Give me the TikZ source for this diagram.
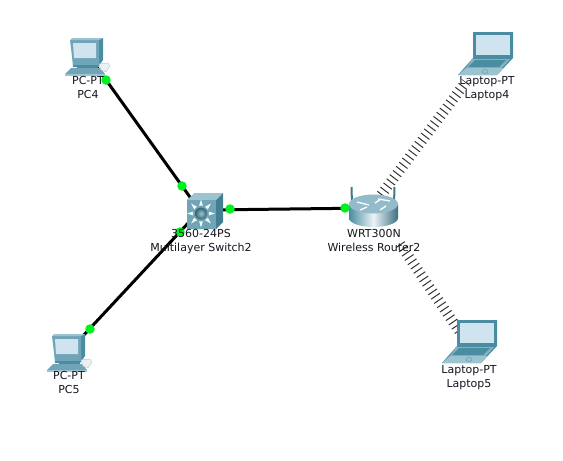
\documentclass[tikz,border=0pt]{standalone}
\usepackage{fontspec}
\setmainfont{DejaVu Sans}
\usetikzlibrary{calc}
\definecolor{tealA}{HTML}{6FA5B7}
\definecolor{tealB}{HTML}{4A8CA1}
\definecolor{tealC}{HTML}{9CC4D0}
\definecolor{screenC}{HTML}{CFE4EE}
\definecolor{linkgreen}{HTML}{00F020}
\definecolor{labelc}{HTML}{14141F}
\tikzset{
  link/.style={line width=3pt,black},
  wifi/.style={line width=10.5pt,black!80,dash pattern=on 1pt off 4.2pt},
  dot/.style={circle,fill=linkgreen,draw=none,inner sep=0pt,minimum size=9.5pt},
  lbl/.style={font=\fontsize{11pt}{14pt}\selectfont,text=labelc,align=center,inner sep=0pt},
  anchorpt/.style={inner sep=0pt,minimum size=0pt},
  pics/pcicon/.style={code={
    \fill[tealB] (-14,-19) -- (17,-19) -- (17,3) -- (12,10) -- (-13,10) -- cycle;
    \fill[tealA] (-16,-17) -- (13,-17) -- (13,8) -- (-13,8) -- cycle;
    \fill[tealC] (-16,-17) -- (-14,-19) -- (17,-19) -- (13,-17) -- cycle;
    \fill[screenC] (-13,-14) -- (10,-14) -- (10,1) -- (-12,1) -- cycle;
    \fill[tealB] (-9,8) -- (11,8) -- (12,11) -- (-9,11) -- cycle;
    \fill[tealA] (-15,11) -- (14,11) -- (19,17) -- (-21,17) -- cycle;
    \fill[tealC] (-21,17) -- (19,17) -- (19,19) -- (-21,19) -- cycle;
    \fill[white!85!tealA,draw=gray!50,line width=.4pt] (13,7) -- (22,6) -- (24,9) -- (20,15) -- (15,13) -- cycle;
  }},
  pics/lapicon/.style={code={
    \fill[tealB] (-13,-23) -- (27,-23) -- (27,3) -- (11,20) -- (-28,20) -- (-13,3) -- cycle;
    \fill[screenC] (-10,-20) -- (24,-20) -- (24,0) -- (-10,0) -- cycle;
    \fill[tealA!85!white] (-14,4) -- (24,4) -- (16,13) -- (-20,13) -- cycle;
    \fill[tealB] (-11,5) -- (20,5) -- (13,12) -- (-18,12) -- cycle;
    \fill[tealC] (-28,20) -- (-20,13) -- (17,13) -- (11,20) -- cycle;
    \draw[tealA,line width=.7pt] (-1,16.5) ellipse (3 and 2);
  }},
}
\begin{document}
\begin{tikzpicture}[x=1pt,y=-1pt]
\useasboundingbox (0,0) rectangle (563,461);
% anchor points
\node[anchorpt] (pc4) at (86,52) {};
\node[anchorpt] (pc5) at (68,352) {};
\node[anchorpt] (swa) at (205,218) {};
\node[anchorpt] (swb) at (205,205) {};
\node[anchorpt] (swc) at (205,210) {};
\node[anchorpt] (rta) at (374,208) {};
\node[anchorpt] (rtb) at (381,195) {};
\node[anchorpt] (rtc) at (400,244) {};
\node[anchorpt] (lap4) at (466,82) {};
\node[anchorpt] (lap5) at (460,332) {};
% wireless
\draw[wifi] (rtb) -- (lap4);
\draw[wifi] (rtc) -- (lap5);
% wired
\draw[link] (pc4) -- (swa);
\draw[link] (pc5) -- (swb);
\draw[link] (swc) -- (rta);
% icons
\pic at (86,57) {pcicon};
\pic at (68,353) {pcicon};
\pic at (486,55) {lapicon};
\pic at (470,343) {lapicon};
% switch
\fill[tealB!90!black] (187,200) -- (195,193) -- (223,193) -- (223,222) -- (216,229) -- (187,229) -- cycle;
\fill[tealC] (187,200) -- (195,193) -- (223,193) -- (216,200) -- cycle;
\fill[tealA] (187,200) rectangle (216,229);
\foreach \a in {0,45,...,315}{
  \fill[white!92!tealA] ($(201,213.5)+(\a:14)$) -- ($(201,213.5)+(\a+14:8)$) -- ($(201,213.5)+(\a-14:8)$) -- cycle;
}
\shade[inner color=tealC,outer color=tealB!70!black] (201,213.5) circle (6);
% router
\draw[tealB!85!black,line width=2pt] (352,204) -- (351.5,187);
\draw[tealB!85!black,line width=2pt] (394,204) -- (394.5,187);
\shade[left color=tealB,right color=tealB!80!black,middle color=white!80!tealC,shading angle=90] (349,204) -- (349,218) arc[start angle=180,end angle=0,x radius=24.5,y radius=9] -- (398,204) -- cycle;
\fill[tealA!75!white] (373.5,204) ellipse (24.5 and 9.5);
\draw[white,line width=1.3pt] (357,202) -- (369,205) (378,199) -- (390,201) (360,210) -- (367,207) (380,210) -- (386,206) (375,203) -- (381,199);
% dots
\node[dot] (d1) at (106,80) {};
\node[dot] (d2) at (182,186) {};
\node[dot] (d3) at (230,209) {};
\node[dot] (d4) at (345,208) {};
\node[dot] (d5) at (180,232) {};
\node[dot] (d6) at (90,329) {};
% labels
\node[lbl] (l4) at (88,87) {PC-PT\\PC4};
\node[lbl] (l5) at (69,382) {PC-PT\\PC5};
\node[lbl] (ls) at (201,241.5) {3560-24PS\\Multilayer Switch2};
\node[lbl] (lr) at (374,240) {WRT300N\\Wireless Router2};
\node[lbl] (ll4) at (487,89) {Laptop-PT\\Laptop4};
\node[lbl] (ll5) at (469,378) {Laptop-PT\\Laptop5};
\end{tikzpicture}
\end{document}
